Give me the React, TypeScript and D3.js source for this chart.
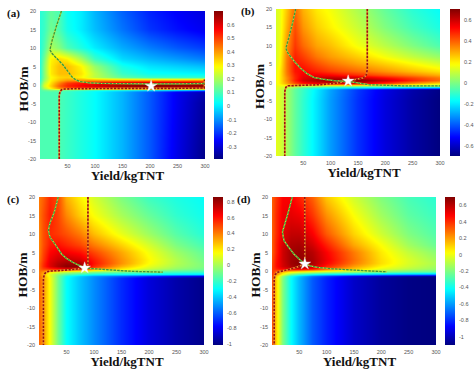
import React, { useMemo } from "react";
import * as d3 from "d3";

// ---------- data ----------
const yieldCols = [0, 8, 20, 35, 50, 75, 100, 150, 200, 250, 300];
const hobRows = [20, 15, 10, 7, 5, 3, 2, 1.2, 0.5, -0.3, -1, -1.5, -2, -5, -20];
const xTicks = [50, 100, 150, 200, 250, 300];
const yTicks = [-20, -15, -10, -5, 0, 5, 10, 15, 20];
const panelLabels = ["(a)", "(b)", "(c)", "(d)"];

const fieldA = [
  [0.06, 0.08, 0.12, 0.1, 0.03, 0.0, -0.06, -0.15, -0.22, -0.26, -0.29],
  [0.06, 0.08, 0.14, 0.1, 0.04, 0.0, -0.05, -0.13, -0.2, -0.24, -0.27],
  [0.05, 0.1, 0.2, 0.16, 0.1, 0.05, 0.0, -0.07, -0.12, -0.16, -0.19],
  [0.05, 0.14, 0.3, 0.33, 0.3, 0.2, 0.08, -0.02, -0.06, -0.09, -0.12],
  [0.05, 0.16, 0.31, 0.36, 0.36, 0.3, 0.18, 0.04, -0.01, -0.03, -0.05],
  [0.05, 0.16, 0.31, 0.36, 0.36, 0.32, 0.22, 0.08, 0.03, 0.02, 0.01],
  [0.05, 0.16, 0.29, 0.33, 0.34, 0.3, 0.22, 0.12, 0.08, 0.07, 0.07],
  [0.06, 0.18, 0.3, 0.36, 0.4, 0.4, 0.4, 0.4, 0.4, 0.4, 0.42],
  [0.08, 0.22, 0.32, 0.42, 0.5, 0.54, 0.57, 0.62, 0.66, 0.66, 0.66],
  [0.1, 0.25, 0.34, 0.46, 0.53, 0.57, 0.61, 0.67, 0.7, 0.69, 0.68],
  [0.1, 0.2, 0.3, 0.4, 0.46, 0.48, 0.52, 0.56, 0.58, 0.57, 0.56],
  [0.1, 0.12, 0.14, 0.12, 0.1, 0.07, 0.04, 0.0, -0.04, -0.08, -0.12],
  [0.1, 0.1, 0.1, 0.1, 0.08, 0.05, 0.02, -0.06, -0.16, -0.27, -0.34],
  [0.1, 0.1, 0.1, 0.1, 0.08, 0.05, 0.02, -0.06, -0.16, -0.27, -0.36],
  [0.1, 0.1, 0.1, 0.1, 0.08, 0.05, 0.02, -0.06, -0.16, -0.28, -0.38],
];

const fieldB = [
  [0.12, 0.15, 0.25, 0.38, 0.28, 0.2, 0.16, 0.06, -0.04, -0.12, -0.17],
  [0.12, 0.15, 0.28, 0.42, 0.32, 0.24, 0.19, 0.1, 0.0, -0.08, -0.14],
  [0.12, 0.16, 0.32, 0.45, 0.38, 0.3, 0.26, 0.16, 0.08, 0.0, -0.07],
  [0.12, 0.17, 0.35, 0.48, 0.44, 0.36, 0.31, 0.24, 0.16, 0.09, 0.03],
  [0.13, 0.18, 0.36, 0.5, 0.48, 0.42, 0.37, 0.3, 0.24, 0.18, 0.12],
  [0.14, 0.2, 0.36, 0.5, 0.52, 0.48, 0.44, 0.38, 0.32, 0.26, 0.21],
  [0.15, 0.2, 0.35, 0.48, 0.54, 0.54, 0.52, 0.46, 0.4, 0.34, 0.28],
  [0.15, 0.2, 0.33, 0.47, 0.56, 0.6, 0.62, 0.6, 0.52, 0.44, 0.36],
  [0.15, 0.2, 0.33, 0.48, 0.58, 0.64, 0.67, 0.7, 0.6, 0.48, 0.38],
  [0.15, 0.2, 0.3, 0.42, 0.5, 0.55, 0.58, 0.58, 0.46, 0.33, 0.22],
  [0.14, 0.15, 0.15, 0.12, 0.1, 0.08, 0.06, 0.04, 0.02, 0.0, -0.02],
  [0.14, 0.13, 0.08, 0.0, -0.06, -0.12, -0.16, -0.2, -0.22, -0.24, -0.26],
  [0.14, 0.12, 0.05, -0.04, -0.1, -0.2, -0.3, -0.45, -0.56, -0.64, -0.69],
  [0.14, 0.12, 0.05, -0.04, -0.11, -0.21, -0.31, -0.46, -0.57, -0.65, -0.7],
  [0.14, 0.12, 0.05, -0.04, -0.11, -0.21, -0.31, -0.46, -0.57, -0.65, -0.7],
];

const fieldC = [
  [0.4, 0.45, 0.55, 0.5, 0.3, 0.18, 0.08, -0.08, -0.2, -0.26, -0.3],
  [0.4, 0.48, 0.58, 0.5, 0.38, 0.25, 0.15, 0.0, -0.12, -0.22, -0.28],
  [0.38, 0.48, 0.55, 0.52, 0.48, 0.4, 0.28, 0.12, -0.02, -0.15, -0.24],
  [0.38, 0.48, 0.58, 0.6, 0.56, 0.5, 0.4, 0.24, 0.08, -0.08, -0.18],
  [0.38, 0.5, 0.62, 0.66, 0.64, 0.6, 0.5, 0.32, 0.14, -0.02, -0.13],
  [0.4, 0.52, 0.66, 0.72, 0.74, 0.7, 0.58, 0.36, 0.17, 0.02, -0.1],
  [0.42, 0.54, 0.68, 0.76, 0.8, 0.78, 0.6, 0.36, 0.16, 0.02, -0.08],
  [0.42, 0.55, 0.68, 0.78, 0.84, 0.84, 0.56, 0.3, 0.12, 0.0, -0.08],
  [0.42, 0.5, 0.55, 0.6, 0.65, 0.62, 0.4, 0.2, 0.06, -0.04, -0.1],
  [0.42, 0.35, 0.2, 0.1, 0.05, 0.0, -0.05, -0.1, -0.14, -0.18, -0.2],
  [0.42, 0.3, 0.1, -0.05, -0.15, -0.22, -0.28, -0.3, -0.32, -0.34, -0.35],
  [0.44, 0.33, 0.12, -0.1, -0.28, -0.4, -0.5, -0.62, -0.72, -0.8, -0.85],
  [0.45, 0.35, 0.15, -0.1, -0.3, -0.42, -0.52, -0.7, -0.84, -0.93, -0.99],
  [0.45, 0.35, 0.15, -0.1, -0.3, -0.42, -0.52, -0.7, -0.84, -0.93, -0.99],
  [0.45, 0.35, 0.15, -0.1, -0.3, -0.42, -0.52, -0.7, -0.84, -0.93, -0.99],
];

const fieldD = [
  [0.3, 0.38, 0.48, 0.48, 0.42, 0.3, 0.12, -0.06, -0.2, -0.3, -0.35],
  [0.3, 0.4, 0.5, 0.52, 0.5, 0.38, 0.22, 0.02, -0.14, -0.26, -0.32],
  [0.3, 0.4, 0.52, 0.58, 0.58, 0.48, 0.32, 0.1, -0.06, -0.2, -0.28],
  [0.3, 0.42, 0.55, 0.62, 0.63, 0.55, 0.42, 0.18, 0.02, -0.14, -0.24],
  [0.3, 0.42, 0.56, 0.64, 0.66, 0.6, 0.48, 0.26, 0.06, -0.08, -0.18],
  [0.32, 0.44, 0.56, 0.64, 0.67, 0.62, 0.5, 0.28, 0.08, -0.04, -0.14],
  [0.33, 0.45, 0.55, 0.64, 0.68, 0.62, 0.48, 0.26, 0.08, -0.04, -0.12],
  [0.34, 0.45, 0.55, 0.62, 0.66, 0.58, 0.42, 0.2, 0.04, -0.06, -0.14],
  [0.35, 0.42, 0.48, 0.52, 0.52, 0.45, 0.3, 0.12, -0.02, -0.1, -0.16],
  [0.38, 0.3, 0.15, 0.05, 0.0, -0.05, -0.1, -0.15, -0.2, -0.24, -0.26],
  [0.38, 0.22, 0.0, -0.2, -0.3, -0.4, -0.45, -0.5, -0.55, -0.58, -0.6],
  [0.36, 0.12, -0.18, -0.4, -0.52, -0.68, -0.78, -0.92, -1.0, -1.05, -1.07],
  [0.35, 0.1, -0.2, -0.42, -0.55, -0.72, -0.82, -0.97, -1.05, -1.09, -1.1],
  [0.35, 0.1, -0.2, -0.42, -0.55, -0.72, -0.82, -0.97, -1.05, -1.09, -1.1],
  [0.35, 0.1, -0.2, -0.42, -0.55, -0.72, -0.82, -0.97, -1.05, -1.09, -1.1],
];

const domainA = [-0.39, 0.7];
const domainB = [-0.7, 0.7];
const domainC = [-1.01, 0.86];
const domainD = [-1.1, 0.7];

const cbTicksA = [-0.3, -0.2, -0.1, 0, 0.1, 0.2, 0.3, 0.4, 0.5, 0.6];
const cbTicksB = [-0.6, -0.4, -0.2, 0, 0.2, 0.4, 0.6];
const cbTicksC = [-1, -0.8, -0.6, -0.4, -0.2, 0, 0.2, 0.4, 0.6, 0.8];
const cbTicksD = [-1, -0.8, -0.6, -0.4, -0.2, 0, 0.2, 0.4, 0.6];

const starA = [202, -0.3];
const starB = [132, 0.4];
const starC = [83, 0.8];
const starD = [60, 1.9];

const greenA = [[39, 20], [30, 16], [22, 12], [18, 9.5], [22, 8.5], [27, 7.7], [35, 6.5], [42, 5.4], [50, 3.8], [58, 2.2], [65, 1.4], [73, 0.9], [90, 0.6], [109, 0.45], [150, 0.35], [200, 0.3], [250, 0.3], [299, 0.4]];
const redA = [[35, -20], [35, -3], [36, -1.9], [39, -1.3], [45, -1.1], [60, -1.0], [150, -0.9], [250, -0.9], [299, -0.8], [299, 1.5]];
const greenB = [[36, 20], [30, 16], [24, 12.5], [18, 9.3], [22, 8], [27, 7], [35, 5.5], [45, 3.9], [57, 2.4], [69, 1.4], [85, 0.9], [106, 0.5], [132, 0.3], [170, -0.6], [230, -0.9], [300, -0.9]];
const redB = [[167, 20], [167, 3.5], [165, 2], [160, 1.3], [145, 0.8], [132, 0.4], [110, -0.2], [80, -0.6], [40, -0.8], [22, -0.9], [18, -1.3], [16, -2.5], [16, -20]];
const greenC = [[35, 20], [28, 16], [20, 13], [17, 11], [20, 9.1], [28, 7.5], [41, 4.6], [50, 3.4], [62, 2.3], [75, 1.4], [83, 0.8], [111, 0.5], [140, 0.2], [171, -0.1], [225, -0.3]];
const redC = [[89, 20], [89, 2], [88, 1.4], [83, 0.8], [60, 0.4], [35, 0.1], [20, 0], [13, -0.3], [10, -0.8], [8, -2], [8, -20]];
const greenD = [[37, 20], [30, 16], [23, 12.5], [19, 10.5], [22, 8.2], [30, 6.5], [40, 4.6], [50, 3.2], [60, 1.9], [70, 1.4], [83, 1.0], [110, 0.6], [144, 0.3], [193, -0.1], [210, -0.2]];
const redD = [[60, 20], [60, 1.9], [45, 1.0], [30, 0.4], [16, -0.1], [9, -0.4], [6, -1], [4, -2], [4, -20]];

// ---------- layout ----------
const layouts = [
  { left: 40, top: 11, right: 205, bottom: 159, cbL: 214, cbR: 223, lx: 7, ly: 17 },
  { left: 276, top: 9, right: 440, bottom: 156, cbL: 450, cbR: 460, lx: 241, ly: 15 },
  { left: 39, top: 197, right: 204, bottom: 345, cbL: 213, cbR: 223, lx: 7, ly: 203 },
  { left: 272, top: 197, right: 436, bottom: 345, cbL: 445, cbR: 455, lx: 237, ly: 203 },
];

const panels = [
  { field: fieldA, domain: domainA, cbTicks: cbTicksA, star: starA, green: greenA, red: redA },
  { field: fieldB, domain: domainB, cbTicks: cbTicksB, star: starB, green: greenB, red: redB },
  { field: fieldC, domain: domainC, cbTicks: cbTicksC, star: starC, green: greenC, red: redC },
  { field: fieldD, domain: domainD, cbTicks: cbTicksD, star: starD, green: greenD, red: redD },
];

const clamp01 = (v: number) => Math.max(0, Math.min(1, v));
function jet(t: number): [number, number, number] {
  t = clamp01(t);
  return [
    Math.round(255 * clamp01(1.5 - Math.abs(4 * t - 3))),
    Math.round(255 * clamp01(1.5 - Math.abs(4 * t - 2))),
    Math.round(255 * clamp01(1.5 - Math.abs(4 * t - 1))),
  ];
}

function sample(field: number[][], x: number, y: number) {
  let i = d3.bisectRight(yieldCols, x) - 1;
  i = Math.max(0, Math.min(yieldCols.length - 2, i));
  const tx = clamp01((x - yieldCols[i]) / (yieldCols[i + 1] - yieldCols[i]));
  let j = 0;
  while (j < hobRows.length - 2 && y < hobRows[j + 1]) j++;
  const ty = clamp01((hobRows[j] - y) / (hobRows[j] - hobRows[j + 1]));
  const a = field[j][i] * (1 - tx) + field[j][i + 1] * tx;
  const b = field[j + 1][i] * (1 - tx) + field[j + 1][i + 1] * tx;
  return a * (1 - ty) + b * ty;
}

function makeImage(field: number[][], domain: number[], w: number, h: number) {
  if (typeof document === "undefined") return "";
  const s = 2;
  const W = Math.round(w * s), H = Math.round(h * s);
  const c = document.createElement("canvas");
  c.width = W; c.height = H;
  const ctx = c.getContext("2d");
  if (!ctx) return "";
  const img = ctx.createImageData(W, H);
  const xs = d3.scaleLinear().domain([0, W]).range([0, 300]);
  const ys = d3.scaleLinear().domain([0, H]).range([20, -20]);
  const cs = d3.scaleLinear().domain(domain).range([0, 1]);
  for (let py = 0; py < H; py++) {
    const y = ys(py + 0.5);
    for (let px = 0; px < W; px++) {
      const x = xs(px + 0.5);
      const [r, g, b] = jet(cs(sample(field, x, y)));
      const k = (py * W + px) * 4;
      img.data[k] = r; img.data[k + 1] = g; img.data[k + 2] = b; img.data[k + 3] = 255;
    }
  }
  ctx.putImageData(img, 0, 0);
  return c.toDataURL();
}

const fmt = (v: number) => (Math.abs(v) < 1e-9 ? "0" : String(+v.toFixed(1)));

function Panel({ idx }: { idx: number }) {
  const L = layouts[idx];
  const P = panels[idx];
  const w = L.right - L.left, h = L.bottom - L.top;
  const x = d3.scaleLinear().domain([0, 300]).range([L.left, L.right]);
  const y = d3.scaleLinear().domain([-20, 20]).range([L.bottom, L.top]);
  const cy = d3.scaleLinear().domain(P.domain).range([L.bottom, L.top]);
  const href = useMemo(() => makeImage(P.field, P.domain, w, h), [idx]);
  const lineLin = d3.line<number[]>().x((d) => x(d[0])).y((d) => y(d[1]));
  const star = d3.symbol().type(d3.symbolStar).size(44)();
  const gid = `cbg${idx}`;
  const stops = d3.range(64).map((k) => k / 63);
  const labelCx = (L.left + L.cbR) / 2 - 4;
  return (
    <g>
      <defs>
        <linearGradient id={gid} x1="0" y1="1" x2="0" y2="0">
          {stops.map((t) => {
            const [r, g, b] = jet(t);
            return <stop key={t} offset={t} stopColor={`rgb(${r},${g},${b})`} />;
          })}
        </linearGradient>
        <clipPath id={`clip${idx}`}>
          <rect x={L.left} y={L.top} width={w} height={h} />
        </clipPath>
      </defs>
      <image href={href} x={L.left} y={L.top} width={w} height={h} preserveAspectRatio="none" />
      <g clipPath={`url(#clip${idx})`}>
        <path d={lineLin(P.red) || ""} fill="none" stroke="#f0a030" strokeWidth={1.6} />
        <path d={lineLin(P.red) || ""} fill="none" stroke="#9a1010" strokeWidth={1.6} strokeDasharray="2.2,1.4" />
        <path d={lineLin(P.green) || ""} fill="none" stroke="#c8d840" strokeWidth={1.3} />
        <path d={lineLin(P.green) || ""} fill="none" stroke="#3a9a3a" strokeWidth={1.3} strokeDasharray="2.5,1.2" />
      </g>
      <path d={star || ""} transform={`translate(${x(P.star[0])},${y(P.star[1])})`} fill="#ffffff" stroke="#dddddd" strokeWidth={0.4} />
      {yTicks.map((t) => (
        <text key={`y${t}`} x={L.left - 4} y={y(t) + 2} textAnchor="end" fontSize={5.5} fill="#555" fontFamily="Liberation Sans, Arial, sans-serif">{t}</text>
      ))}
      {xTicks.map((t) => (
        <text key={`x${t}`} x={x(t)} y={L.bottom + 9} textAnchor="middle" fontSize={5.5} fill="#555" fontFamily="Liberation Sans, Arial, sans-serif">{t}</text>
      ))}
      <rect x={L.cbL} y={L.top} width={L.cbR - L.cbL} height={h} fill={`url(#${gid})`} />
      {P.cbTicks.map((t) => (
        <text key={`c${t}`} x={L.cbR + 4} y={cy(t) + 2} fontSize={5.5} fill="#555" fontFamily="Liberation Sans, Arial, sans-serif">{fmt(t)}</text>
      ))}
      <text x={labelCx} y={L.bottom + 21} textAnchor="middle" fontSize={13} fontWeight="bold" fontFamily="Liberation Serif, Times New Roman, serif" fill="#111">Yield/kgTNT</text>
      <text transform={`translate(${L.left - 12},${(L.top + L.bottom) / 2 + 4}) rotate(-90)`} textAnchor="middle" fontSize={13.5} fontWeight="bold" fontFamily="Liberation Serif, Times New Roman, serif" fill="#111">HOB/m</text>
      <text x={L.lx} y={L.ly} fontSize={11} fontWeight="bold" fontFamily="Liberation Serif, Times New Roman, serif" fill="#111">{panelLabels[idx]}</text>
    </g>
  );
}

export default function App() {
  return (
    <svg width={474} height={374} style={{ position: "absolute", left: 0, top: 0, background: "#fff" }}>
      <rect width={474} height={374} fill="#fff" />
      {[0, 1, 2, 3].map((i) => (
        <Panel key={i} idx={i} />
      ))}
    </svg>
  );
}
